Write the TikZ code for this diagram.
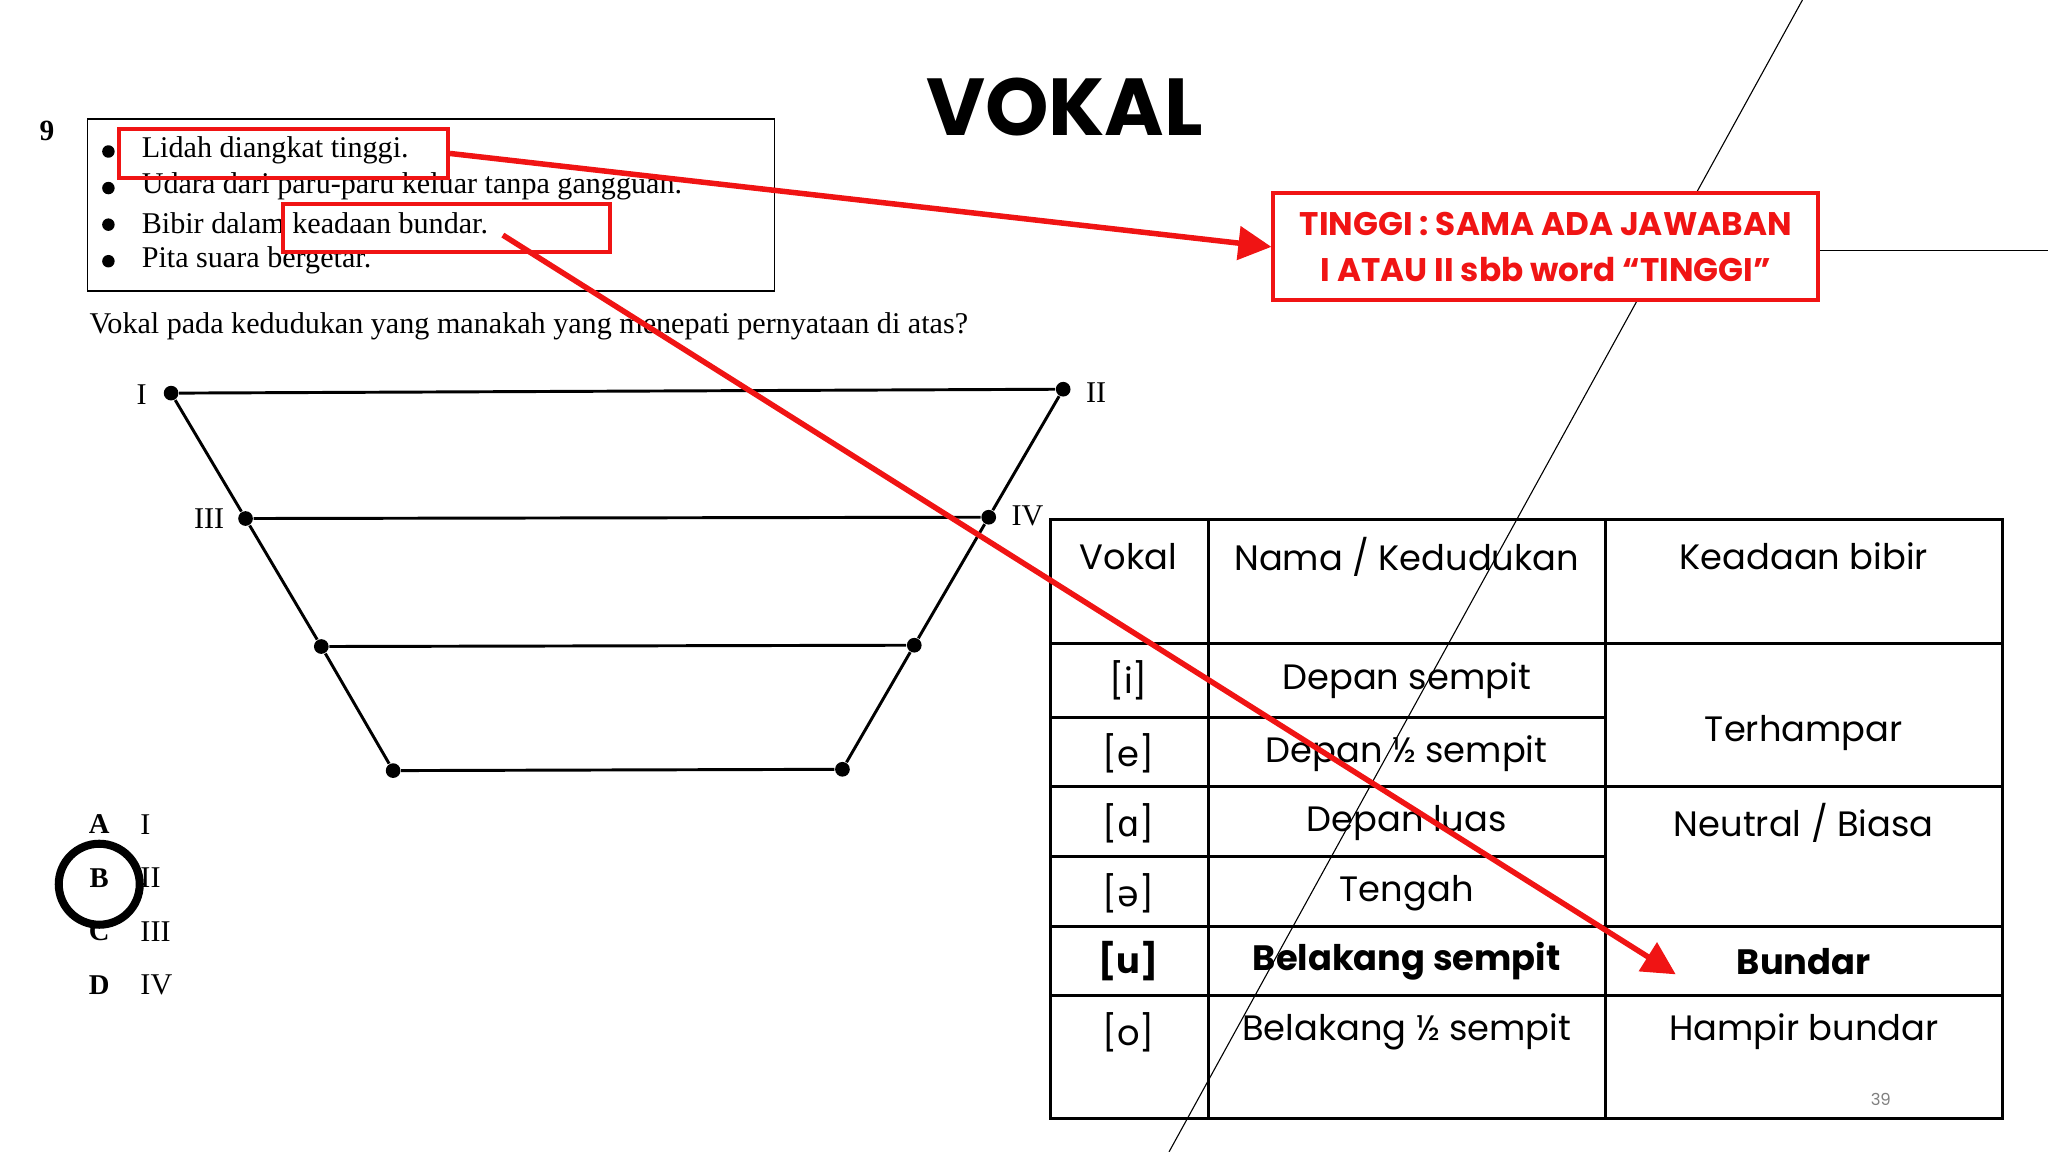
\documentclass[tikz,border=0pt]{standalone}
\usepackage{fontspec}
\setmainfont{Poppins}
\newfontfamily\scan{Liberation Serif}
\newfontfamily\ipa{DejaVu Sans}
\usetikzlibrary{arrows.meta}
\definecolor{myred}{RGB}{240,20,20}
\begin{document}
\begin{tikzpicture}[x=0.0125cm,y=-0.0125cm,
  scantxt/.style={font=\scan\fontsize{8.2}{9}\selectfont,anchor=west,inner sep=0},
  cell/.style={font=\fontsize{9.6}{11}\selectfont,inner sep=0},
  redbox/.style={draw=myred,line width=1.1pt},
  redarrow/.style={draw=myred,line width=1.5pt,-{Triangle[length=9pt,width=9pt]}},
  dot/.style={circle,fill=black,inner sep=0,minimum size=4pt}]
\useasboundingbox (0,0) rectangle (1568,882);
% diagonal decoration
\draw[line width=0.3pt] (1380,0) -- (895,882);
\draw[line width=0.3pt] (1392,192) -- (1568,192);
% title
\node[font=\bfseries\fontsize{22}{26}\selectfont] (title) at (815,82) {VOKAL};
% scanned question
\node[font=\scan\bfseries\fontsize{8}{9}\selectfont] (q9) at (36,100) {9};
\draw[line width=0.5pt] (67,91) rectangle (593,223);
\foreach \y/\t in {115/Lidah diangkat tinggi.,143/Udara dari paru-paru keluar tanpa gangguan.,171/Bibir dalam keadaan bundar.,199/Pita suara bergetar.}{
  \fill (83,\y+1) circle (1.7pt);
  \node[scantxt] at (108,\y) {\t};}
\node[redbox,minimum width=252*0.0125cm,minimum height=37*0.0125cm,inner sep=0] (r1) at (217,117.5) {};
\node[redbox,minimum width=250*0.0125cm,minimum height=37*0.0125cm,inner sep=0] (r2) at (342,174.5) {};
\node[scantxt] (qt) at (68,250) {Vokal pada kedudukan yang manakah yang menepati pernyataan di atas?};
% trapezoid
\node[dot] (p1) at (131,301) {}; \node[dot] (p2) at (814,298) {};
\node[dot] (p3) at (188,397) {}; \node[dot] (p4) at (757,396) {};
\node[dot] (p5) at (246,495) {}; \node[dot] (p6) at (700,494) {};
\node[dot] (p7) at (301,590) {}; \node[dot] (p8) at (645,589) {};
\draw[line width=0.8pt] (p1)--(p2) (p3)--(p4) (p5)--(p6) (p7)--(p8)
  (p1)--(p3)--(p5)--(p7) (p2)--(p4)--(p6)--(p8);
\node[scantxt] at (104,302) {I};
\node[scantxt] at (831,301) {II};
\node[scantxt] at (148,397) {III};
\node[scantxt] at (774,395) {IV};
\foreach \y/\l/\v in {631/A/I,672/B/II,713/C/III,754/D/IV}{
  \node[font=\scan\bfseries\fontsize{7.8}{9}\selectfont] at (76,\y) {\l};
  \node[scantxt] at (107,\y) {\v};}
\draw[line width=2.2pt] (76,677) circle (31*0.0125cm);
% red note
\node[redbox,fill=white,minimum width=417*0.0125cm,minimum height=82*0.0125cm,align=center,text=myred,
  font=\bfseries\fontsize{8.9}{12.5}\selectfont] (note) at (1183.5,189)
  {TINGGI : SAMA ADA JAWABAN\\I ATAU II sbb word “TINGGI”};
% table
\draw[line width=0.8pt] (804,398) rectangle (1533,856);
\draw[line width=0.8pt] (925,398)--(925,856) (1229,398)--(1229,856)
  (804,493)--(1533,493) (804,549)--(1229,549) (804,602)--(1533,602)
  (804,656)--(1229,656) (804,709)--(1533,709) (804,762)--(1533,762);
\node[cell] at (864,426) {Vokal};
\node[cell] at (1077,426) {Nama / Kedudukan};
\node[cell] at (1381,426) {Keadaan bibir};
\node[cell] at (864,521) {[i]};       \node[cell] at (1077,521) {Depan sempit};
\node[cell] at (864,577) {[e]};       \node[cell] at (1077,577) {Depan ½ sempit};
\node[cell] at (864,630) {[{\ipa ɑ}]}; \node[cell] at (1077,630) {Depan luas};
\node[cell] at (864,684) {[{\ipa ə}]}; \node[cell] at (1077,684) {Tengah};
\node[cell,font=\bfseries\fontsize{9.6}{11}\selectfont] at (864,736) {[u]};
\node[cell,font=\bfseries\fontsize{9.6}{11}\selectfont] at (1077,736) {Belakang sempit};
\node[cell] at (864,790) {[o]};       \node[cell] at (1077,790) {Belakang ½ sempit};
\node[cell] at (1381,561) {Terhampar};
\node[cell] at (1381,630) {Neutral / Biasa};
\node[cell,font=\bfseries\fontsize{9.6}{11}\selectfont] (bundar) at (1381,736) {Bundar};
\node[cell] at (1381,790) {Hampir bundar};
\node[font=\fontsize{4.5}{5}\selectfont,text=gray] at (1440,842) {39};
% arrows
\coordinate (a2s) at (385,180);
\coordinate (a2e) at (1283,746);
\draw[redarrow] (r1.east) -- (note.west);
\draw[redarrow] (a2s) -- (a2e);
\end{tikzpicture}
\end{document}
